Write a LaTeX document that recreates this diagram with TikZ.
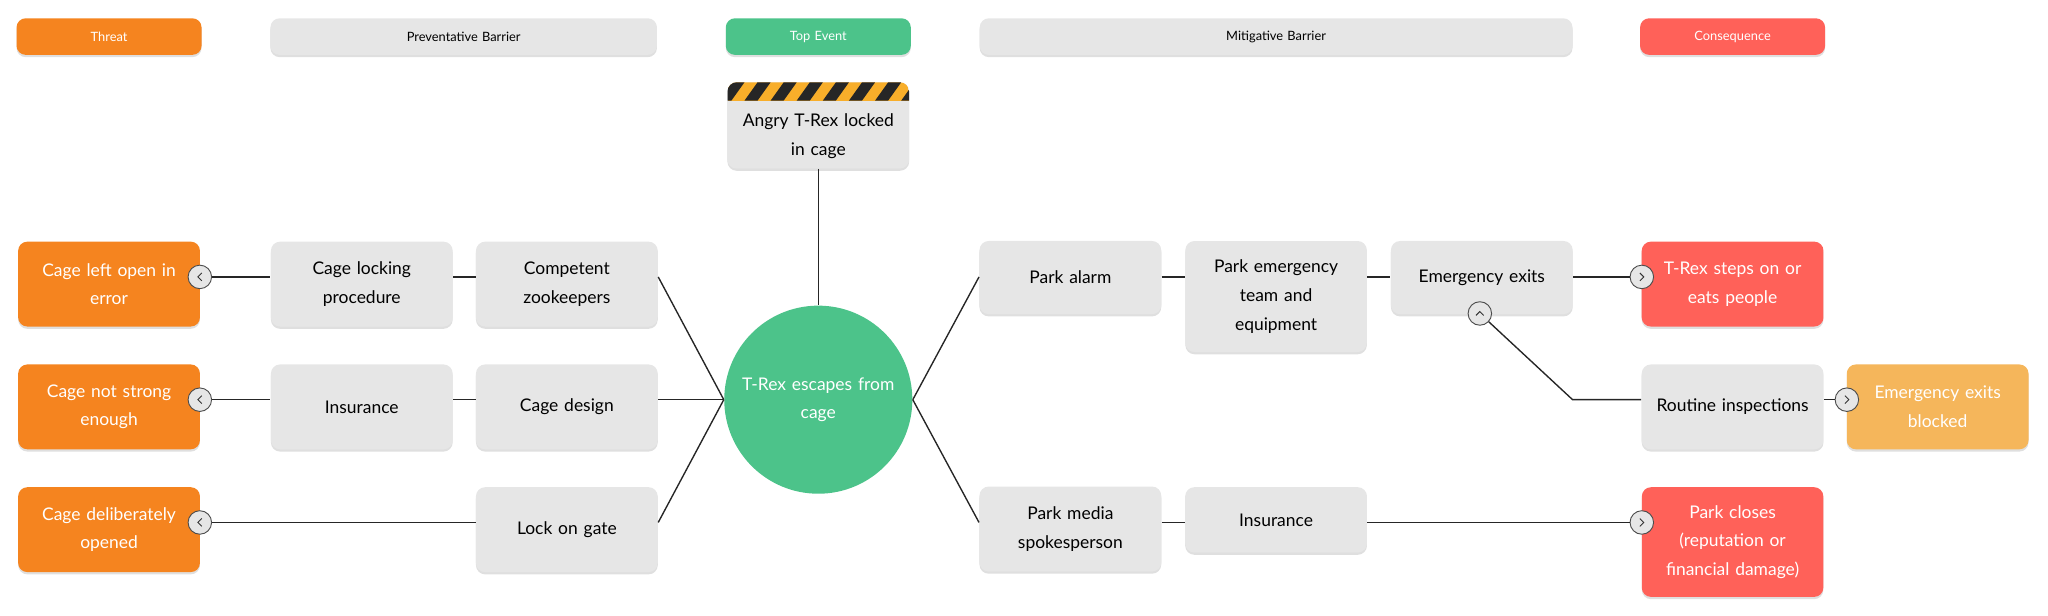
\documentclass[tikz,border=0pt]{standalone}
\usepackage{fontspec}
\setmainfont{Lato}
\usetikzlibrary{positioning,shadows}
\definecolor{threatorange}{HTML}{F5841F}
\definecolor{topgreen}{HTML}{4CC38A}
\definecolor{conred}{HTML}{FF6159}
\definecolor{softorange}{HTML}{F5B65B}
\definecolor{barriergray}{HTML}{E6E6E6}
\definecolor{hazardyellow}{HTML}{F8AE2A}
\tikzset{
    box/.style={
           rectangle,
           rounded corners=4pt,
           fill=barriergray,
           drop shadow={opacity=0.25,shadow xshift=0pt,shadow yshift=-1pt},
           minimum width=2.78cm,
           minimum height=1.3cm,
           text width=2.55cm,
           align=center,
           font=\fontsize{7.6}{12.5}\selectfont,
           },
    head/.style={
           box,
           minimum height=0.56cm,
           text width=2.6cm,
           font=\fontsize{5.6}{7}\selectfont,
           },
    knob/.style={
           circle,
           draw=black!70, thin,
           fill=barriergray,
           minimum size=0.36cm,
           inner sep=0pt,
           },
    knobL/.style={knob,path picture={
           \draw[black!80] ([shift={(0.03cm,0.06cm)}]path picture bounding box.center)
             -- ++(-0.06cm,-0.06cm) -- ++(0.06cm,-0.06cm);}},
    knobR/.style={knob,path picture={
           \draw[black!80] ([shift={(-0.03cm,0.06cm)}]path picture bounding box.center)
             -- ++(0.06cm,-0.06cm) -- ++(-0.06cm,-0.06cm);}},
    knobU/.style={knob,path picture={
           \draw[black!80] ([shift={(-0.06cm,-0.03cm)}]path picture bounding box.center)
             -- ++(0.06cm,0.06cm) -- ++(0.06cm,-0.06cm);}},
    link/.style={draw=black!85, line width=0.6pt},
}

\begin{document}
\hyphenpenalty=10000
\exhyphenpenalty=10000
\begin{tikzpicture}[x=0.02cm,y=-0.02cm]
 \useasboundingbox (0,0) rectangle (1568,471);

 % header row
 \node[head,fill=threatorange,text=white] (hThreat) at (83.5,28) {Threat};
 \node[head,minimum width=5.92cm,text width=5.5cm] (hPrev) at (355,28) {Preventative Barrier};
 \node[head,fill=topgreen,text=white] (hTop) at (626.5,28) {Top Event};
 \node[head,minimum width=9.08cm,text width=8.5cm] (hMit) at (977,28) {Mitigative Barrier};
 \node[head,fill=conred,text=white] (hCon) at (1326.5,28) {Consequence};

 % hazard with striped top
 \node[box,minimum height=1.32cm] (hazard) at (626.5,96) {};
 \node[text width=2.55cm,align=center,font=\fontsize{7.6}{12.5}\selectfont] (hazardText) at (626.5,104) {Angry T-Rex locked\\in cage};
 \begin{scope}
  \clip[rounded corners=4pt] (557,63) rectangle (696,90);
  \fill[hazardyellow] (557,63) rectangle (696,77);
  \foreach \s in {0,20,...,160}
   \fill[black!85] (550+\s,77) -- ++(10,0) -- ++(10,-14) -- ++(-10,0) -- cycle;
 \end{scope}

 % top event
 \node[circle,fill=topgreen,minimum size=2.78cm,text width=2.5cm,align=center,
  text=white,font=\fontsize{7.6}{12.5}\selectfont] (event) at (626.5,306) {T-Rex escapes from\\cage};
 \draw[link] (hazard.south) -- (event.north);

 % threats and preventative barriers
 \node[box,fill=threatorange,text=white] (tOpen) at (83.5,217.5) {Cage left open in\\error};
 \node[box,fill=threatorange,text=white] (tWeak) at (83.5,311.5) {Cage not strong\\enough};
 \node[box,fill=threatorange,text=white] (tGate) at (83.5,405.5) {Cage deliberately\\opened};
 \node[box] (pLock) at (277,217.5) {Cage locking procedure};
 \node[box] (pKeep) at (434,217.5) {Competent zookeepers};
 \node[box] (pIns) at (277,311.5) {Insurance};
 \node[box] (pDesign) at (434,311.5) {Cage design};
 \node[box] (pGate) at (434,405.5) {Lock on gate};
 \node[knobL] (kOpen) at (153,212) {};
 \node[knobL] (kWeak) at (153,306) {};
 \node[knobL] (kGate) at (153,400) {};

 % mitigative barriers and consequences
 \node[box,minimum height=1.12cm] (mAlarm) at (819.5,212.5) {Park alarm};
 \node[box,minimum height=1.7cm,text width=2.1cm] (mTeam) at (977,227) {Park emergency team and equipment};
 \node[box,minimum height=1.12cm] (mExit) at (1134.5,212.5) {Emergency exits};
 \node[box,fill=conred,text=white] (cEat) at (1326.5,217.5) {T-Rex steps on or\\eats people};
 \node[box] (mInsp) at (1326.5,311.5) {Routine inspections};
 \node[box,fill=softorange,text=white] (cBlock) at (1483.5,311.5) {Emergency exits\\blocked};
 \node[box] (mMedia) at (819.5,405) {Park media spokesperson};
 \node[box,minimum height=1cm] (mIns) at (977,398) {Insurance};
 \node[box,fill=conred,text=white,minimum height=1.68cm,text width=2.3cm] (cClose) at (1326.5,415) {Park closes (reputation or financial damage)};
 \node[knobR] (kEat) at (1257,212) {};
 \node[knobR] (kBlock) at (1414,306) {};
 \node[knobR] (kClose) at (1257,400) {};
 \node[knobU] (kExit) at (1133,240) {};
 \coordinate (bend) at (1204,306);

 % connectors
 \draw[link] (kOpen) -- (pLock.west |- kOpen) (pLock.east |- kOpen) -- (pKeep.west |- kOpen);
 \draw[link] (kWeak) -- (pIns.west |- kWeak) (pIns.east |- kWeak) -- (pDesign.west |- kWeak);
 \draw[link] (kGate) -- (pGate.west |- kGate);
 \draw[link] (pKeep.east |- kOpen) -- (event.west);
 \draw[link] (pDesign.east |- kWeak) -- (event.west);
 \draw[link] (pGate.east |- kGate) -- (event.west);
 \draw[link] (mAlarm.west |- kEat) -- (event.east);
 \draw[link] (mMedia.west |- kClose) -- (event.east);
 \draw[link] (mAlarm.east |- kEat) -- (mTeam.west |- kEat) (mTeam.east |- kEat) -- (mExit.west |- kEat);
 \draw[link] (mExit.east |- kEat) -- (kEat);
 \draw[link] (kExit) -- (bend) -- (mInsp.west |- bend);
 \draw[link] (mInsp.east |- kBlock) -- (kBlock);
 \draw[link] (mMedia.east |- kClose) -- (mIns.west |- kClose) (mIns.east |- kClose) -- (kClose);
\end{tikzpicture}
\end{document}
